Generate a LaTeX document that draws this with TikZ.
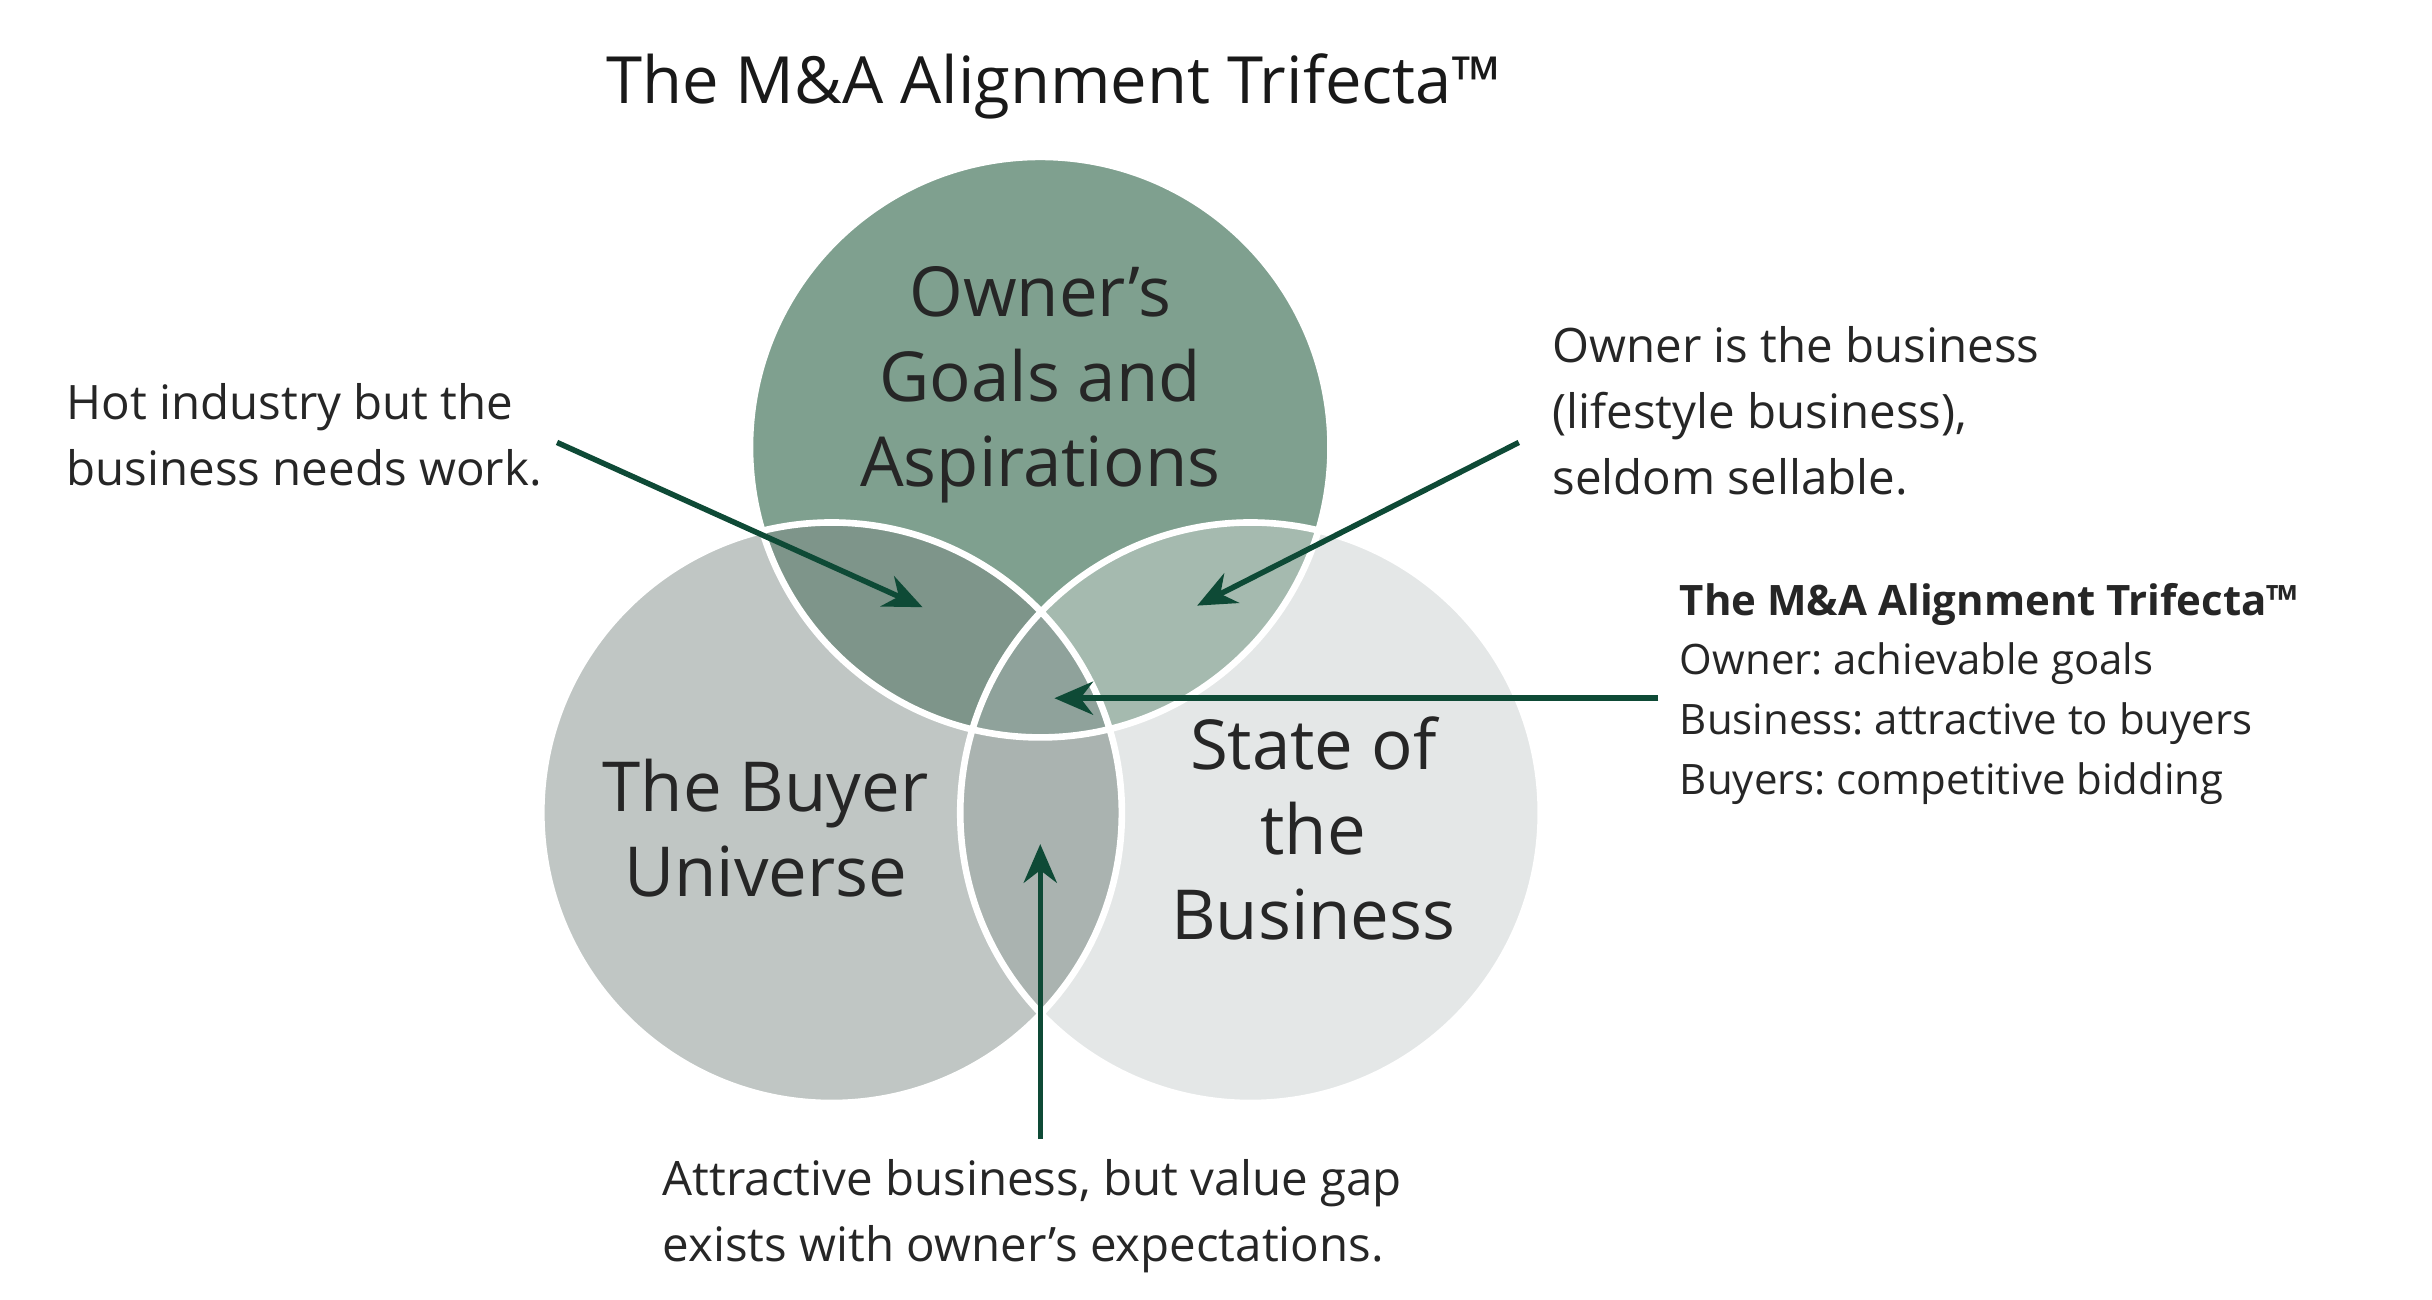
\documentclass[tikz,border=0pt]{standalone}
\usepackage{fontspec}
\setmainfont{Open Sans}
\usetikzlibrary{arrows.meta}
\definecolor{cTop}{HTML}{7FA08F}
\definecolor{cLeft}{HTML}{C0C6C4}
\definecolor{cRight}{HTML}{E4E7E7}
\definecolor{cTL}{HTML}{7E958A}
\definecolor{cTR}{HTML}{A5BAAF}
\definecolor{cLR}{HTML}{AAB3B0}
\definecolor{cC}{HTML}{8FA29B}
\definecolor{arr}{HTML}{0E4A36}
\begin{document}
\begin{tikzpicture}[x=0.01cm,y=-0.01cm,
  lbl/.style={font=\fontsize{12.5}{15.4}\selectfont,align=center,text=black!85},
  side/.style={font=\fontsize{8.6}{12}\selectfont,align=left,text=black!85},
  box/.style={font=\fontsize{7.6}{10.8}\selectfont,align=left,text=black!85},
  ar/.style={draw=arr,line width=1pt,-{Stealth[length=7pt,width=6pt]}}]
\useasboundingbox (0,0) rectangle (1550,828);
\def\R{185}
\coordinate (T) at (663,285);
\coordinate (L) at (530,518);
\coordinate (Rc) at (797,518);
\fill[cLeft] (L) circle (\R);
\fill[cRight] (Rc) circle (\R);
\fill[cTop] (T) circle (\R);
\begin{scope}\clip (L) circle (\R); \fill[cTL] (T) circle (\R); \end{scope}
\begin{scope}\clip (Rc) circle (\R); \fill[cTR] (T) circle (\R); \end{scope}
\begin{scope}\clip (Rc) circle (\R); \fill[cLR] (L) circle (\R); \end{scope}
\begin{scope}\clip (Rc) circle (\R); \clip (L) circle (\R); \fill[cC] (T) circle (\R); \end{scope}
\draw[white,line width=1.2pt] (T) circle (\R) (L) circle (\R) (Rc) circle (\R);

\node[font=\fontsize{11.8}{14}\selectfont,text=black!90] (title) at (672,55) {The M\&A Alignment Trifecta™};
\node[lbl] (own) at (663,245) {Owner’s\\Goals and\\Aspirations};
\node[lbl] (buy) at (488,528) {The Buyer\\Universe};
\node[lbl] (sta) at (837,528) {State of\\the\\Business};

\node[side,anchor=west] (hot) at (30,277) {Hot industry but the\\business needs work.};
\node[side,anchor=west] (life) at (977,262) {Owner is the business\\(lifestyle business),\\seldom sellable.};
\node[side,anchor=west] (val) at (410,775) {Attractive business, but value gap\\exists with owner’s expectations.};
\node[box,anchor=north west,inner sep=0pt] (boxt) at (1070,371) {\textbf{The M\&A Alignment Trifecta™}\\Owner:\ achievable goals\\Business:\ attractive to buyers\\Buyers:\ competitive bidding};

\coordinate (a1) at (355,282); \coordinate (b1) at (588,387);
\coordinate (a2) at (968,282); \coordinate (b2) at (763,386);
\coordinate (a3) at (1057,445); \coordinate (b3) at (672,445);
\coordinate (a4) at (663,726); \coordinate (b4) at (663,538);
\draw[ar] (a1) -- (b1);
\draw[ar] (a2) -- (b2);
\draw[ar] (a3) -- (b3);
\draw[ar] (a4) -- (b4);
\end{tikzpicture}
\end{document}
